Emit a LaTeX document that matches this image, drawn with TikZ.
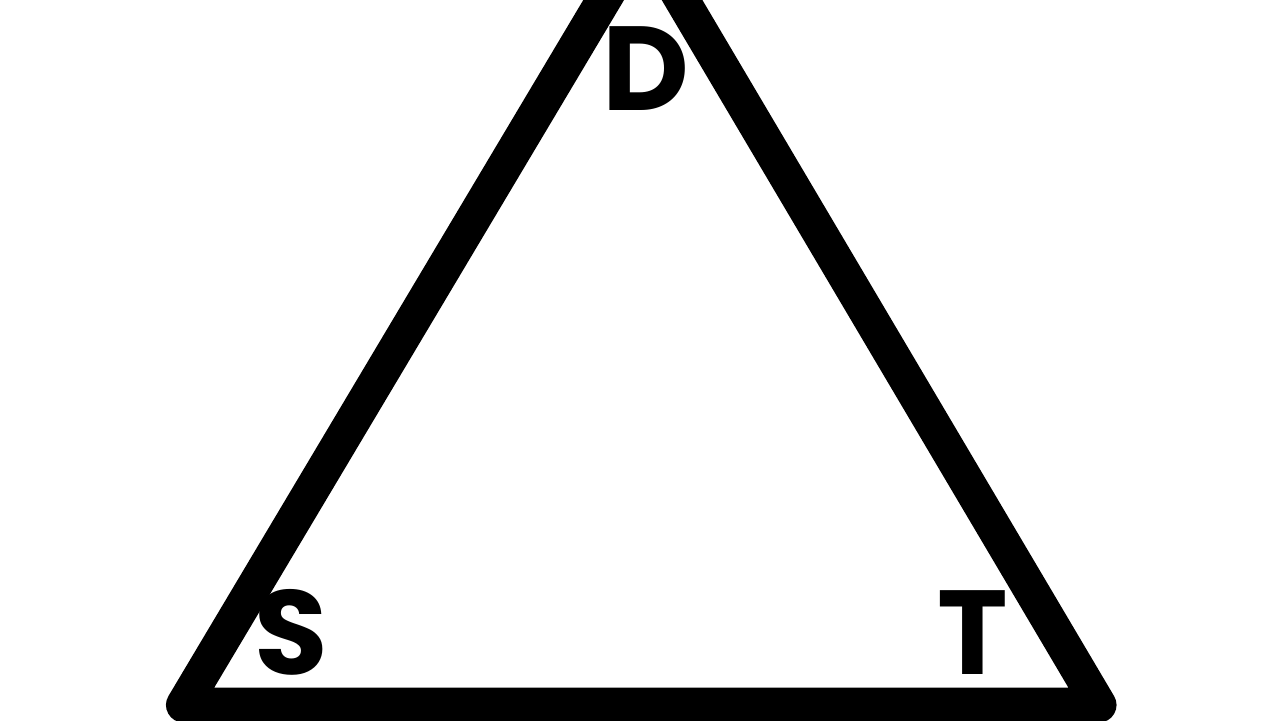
\documentclass[tikz,border=0pt]{standalone}
\usepackage{fontspec}
\setmainfont{Poppins}
\usepackage{tikz}
\usetikzlibrary{positioning}
\tikzset{
  side/.style={draw=black, line width=0.7cm, line join=round},
  letter/.style={inner sep=0pt, font=\fontsize{68}{68}\selectfont\bfseries, text=black},
}
\begin{document}
\begin{tikzpicture}
    \useasboundingbox (0,0) rectangle (25.6,14.4);
    \clip (0,0) rectangle (25.6,14.4);

    \coordinate (top) at (12.86,15.72);
    \coordinate (left) at (3.67,0.30);
    \coordinate (right) at (21.98,0.30);

    \path[side] (top) -- (left) -- (right) -- cycle;

    \node[letter] (d) at (12.92,13.02) {D};
    \node[letter] (s) at (5.83,1.76) {S};
    \node[letter] (t) at (19.46,1.74) {T};
\end{tikzpicture}
\end{document}
